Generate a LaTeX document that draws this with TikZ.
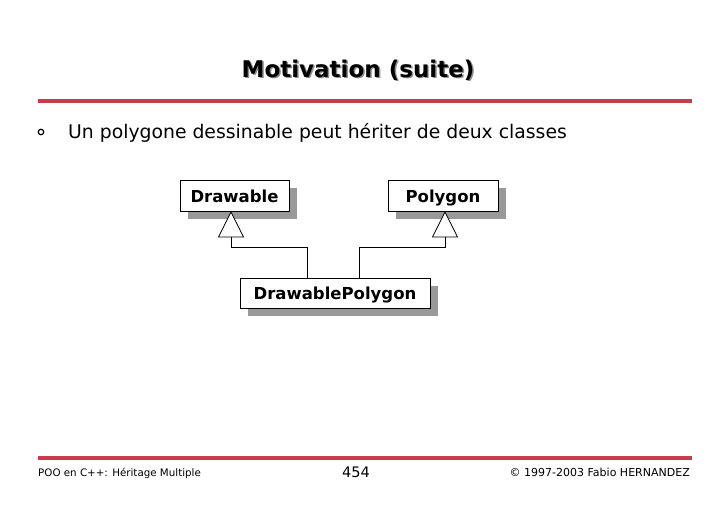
\documentclass[tikz,border=0pt]{standalone}
\usepackage{fontspec}
\setmainfont{DejaVu Sans}
\begin{document}
\begin{tikzpicture}[x=1pt,y=-1pt,
  cls/.style={draw=black,line width=0.8pt,fill=white,minimum height=31pt,inner sep=0pt,text height=14.5pt,text depth=1.5pt,font=\bfseries\fontsize{16.5}{18}\selectfont},
  shad/.style={fill=black!40},
  redline/.style={line width=3.5pt,draw={rgb,255:red,200;green,60;blue,75}},
  inh/.style={line width=0.7pt},
  tri/.style={draw,line width=0.7pt,fill=white},
  lbl/.style={inner sep=0pt}]
\useasboundingbox (0,0) rectangle (728,515);
% title
\node[lbl,text=black!45] (titleshadow) at (359.5,71.5) {\bfseries\fontsize{23}{27}\selectfont Motivation (suite)};
\node[lbl] (title) at (358,70) {\bfseries\fontsize{23}{27}\selectfont Motivation (suite)};
\coordinate (tl) at (38,101);
\coordinate (tr) at (692,101);
\draw[redline] (tl) -- (tr);
% bullet
\node[circle,draw,line width=1.2pt,minimum size=5.5pt,inner sep=0pt] (bul) at (41,132) {};
\node[lbl,anchor=base west,font=\fontsize{18.8}{22}\selectfont] (txt) at (68,138) {Un polygone dessinable peut hériter de deux classes};
% shadows
\fill[shad] (188,188) rectangle (297,219);
\fill[shad] (396,188) rectangle (506,219);
\fill[shad] (248,286) rectangle (438,316);
% classes
\node[cls,minimum width=109pt] (draw) at (234.5,196) {Drawable};
\node[cls,minimum width=110pt] (poly) at (443,196) {Polygon};
\node[cls,minimum width=190pt,minimum height=30pt] (dp) at (335,293) {DrawablePolygon};
% triangles
\coordinate (ta) at (231,212);
\coordinate (pa) at (445,212);
\draw[tri] (ta) -- (218.5,237) -- (243.5,237) -- cycle;
\draw[tri] (pa) -- (432.5,237) -- (457.5,237) -- cycle;
\coordinate (tb) at (231,237);
\coordinate (pb) at (445,237);
\draw[inh] (tb) |- (307,247) -- (307,278);
\draw[inh] (pb) |- (359,247) -- (359,278);
% footer
\coordinate (fl) at (38,458);
\coordinate (fr) at (692,458);
\draw[redline] (fl) -- (fr);
\node[lbl,anchor=base west,font=\fontsize{10.3}{12}\selectfont] (f1) at (38,476) {POO en C++: Héritage Multiple};
\node[lbl,anchor=base,font=\fontsize{14.5}{16}\selectfont] (f2) at (356,477) {454};
\node[lbl,anchor=base east,font=\fontsize{11}{13}\selectfont] (f3) at (690,476) {© 1997-2003 Fabio HERNANDEZ};
\end{tikzpicture}
\end{document}
